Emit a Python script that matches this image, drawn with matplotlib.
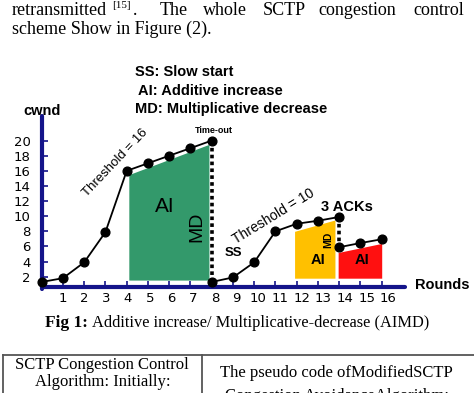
import numpy as np
import matplotlib.pyplot as plt
from matplotlib.lines import Line2D
from matplotlib.transforms import ScaledTranslation

# cwnd per round
ss1_rounds = [0, 1, 2, 3, 4, 5, 6, 7, 8]
ss1_cwnd = [1.3, 1.8, 3.9, 7.9, 16, 17, 18, 19, 20]
ss2_rounds = [8, 9, 10, 11, 12, 13, 14]
ss2_cwnd = [1.3, 1.9, 3.9, 8, 9, 9.4, 9.9]
ai3_rounds = [14, 15, 16]
ai3_cwnd = [5.9, 6.45, 6.95]

# drops (timeout, 3 acks)
drop1_rounds = [8, 8]
drop1_cwnd = [20, 1.3]
drop2_rounds = [14, 14]
drop2_cwnd = [9.9, 5.9]

# shaded regions: x range, top edge, bottom
green_x = [4.1, 7.87]
green_top = [15.5, 19.5]
green_bot = 1.55
yellow_x = [11.9, 13.8]
yellow_top = [8, 9.5]
yellow_bot = 1.8
red_x = [13.95, 16.0]
red_top = [5.2, 6.4]
red_bot = 1.8

x_ticks = list(range(1, 17))
y_ticks = list(range(2, 21, 2))

NAVY = '#14148a'
GREEN = '#33996b'
YELLOW = '#ffc000'
RED = '#ff1010'

SANS = ['Liberation Sans', 'DejaVu Sans']
SERIF = ['Liberation Serif', 'DejaVu Serif']
plt.rcParams['font.family'] = SANS

W, H = 474, 393
X0, XS = 41.7, 21.25
Y0, YS = 291.8, 7.56

fig = plt.figure(figsize=(W / 100, H / 100), dpi=100)
ax = fig.add_axes([0, 0, 1, 1])
ax.set_xlim(-X0 / XS, (W - X0) / XS)
ax.set_ylim((Y0 - H) / YS, Y0 / YS)

def fx(px):
    return px / W

def fy(py):
    return 1 - py / H

# axes spines
for s in ['top', 'right']:
    ax.spines[s].set_visible(False)
ax.spines['left'].set_position(('data', 0))
ax.spines['bottom'].set_position(('data', 0.67))
ax.spines['left'].set_bounds(0.4, 23.2)
ax.spines['bottom'].set_bounds(0, 17.1)
for s in ['left', 'bottom']:
    ax.spines[s].set_color(NAVY)
    ax.spines[s].set_linewidth(3)
    ax.spines[s].set_capstyle('round')

ax.set_xticks(x_ticks)
ax.set_yticks(y_ticks)
ax.tick_params(axis='x', direction='in', length=4, width=1.2, color=NAVY,
               labelsize=9.5, pad=4)
ax.tick_params(axis='y', direction='in', length=4, width=1.2, color=NAVY,
               labelsize=9.5, pad=8)
for lab in ax.get_xticklabels() + ax.get_yticklabels():
    lab.set_family('DejaVu Sans')
# the round labels drift a little to the right in the original
for i, lab in enumerate(ax.get_xticklabels()):
    lab.set_transform(lab.get_transform() + ScaledTranslation(i * 0.0045, 0, fig.dpi_scale_trans))

# shaded areas
ax.fill_between(green_x, green_top, green_bot, color=GREEN, lw=0, zorder=2)
ax.fill_between(yellow_x, yellow_top, yellow_bot, color=YELLOW, lw=0, zorder=2)
ax.fill_between(red_x, red_top, red_bot, color=RED, lw=0, zorder=2)

# cwnd lines
for xs, ys in [(ss1_rounds, ss1_cwnd), (ss2_rounds, ss2_cwnd), (ai3_rounds, ai3_cwnd)]:
    ax.plot(xs, ys, color='black', lw=1.3, marker='o', ms=6.3, zorder=4)
ax.plot(drop1_rounds, drop1_cwnd, color='black', lw=2.6, ls=(0, (1, 0.9)), zorder=3)
ax.plot(drop2_rounds, drop2_cwnd, color='black', lw=2.6, ls=(0, (1, 0.9)), zorder=3)

# labels on the chart
ax.text(0, 23.95, 'cwnd', fontsize=10.5, fontweight='bold', ha='center', va='center')
ax.text(18.86, 0.9, 'Rounds', fontsize=10.5, fontweight='bold', ha='center', va='center')
ax.text(4.39, 29.11, 'SS: Slow start', fontsize=10.5, fontweight='bold', va='center')
ax.text(4.53, 26.6, 'AI: Additive increase', fontsize=10.5, fontweight='bold', va='center')
ax.text(4.39, 24.14, 'MD: Multiplicative decrease', fontsize=10.5, fontweight='bold', va='center')
ax.text(8.11, 21.27, 'Time-out', fontsize=6.5, fontweight='bold', ha='center', va='center')
ax.text(3.45, 17.0, 'Threshold = 16', fontsize=9.5, rotation=46.5,
        ha='center', va='center', rotation_mode='anchor')
ax.text(10.93, 9.93, 'Threshold = 10', fontsize=10, rotation=31.5,
        ha='center', va='center', rotation_mode='anchor')
ax.text(14.35, 11.26, '3 ACKs', fontsize=10.5, fontweight='bold', ha='center', va='center')
ax.text(9.0, 5.17, 'SS', fontsize=9.5, fontweight='bold', ha='center', va='center')
ax.text(5.8, 11.26, 'AI', fontsize=15, ha='center', va='center', zorder=5)
ax.text(7.29, 8.6, 'MD', fontsize=14, rotation=90, ha='center', va='center', zorder=5)
ax.text(13.49, 6.85, 'MD', fontsize=7.5, fontweight='bold', rotation=90,
        ha='center', va='center', zorder=5)
ax.text(13.02, 4.2, 'AI', fontsize=10.5, fontweight='bold', ha='center', va='center', zorder=5)
ax.text(15.06, 4.2, 'AI', fontsize=10.5, fontweight='bold', ha='center', va='center', zorder=5)

# paragraph above the figure (justified first line)
line1 = [('retransmitted', 11.7), ('The', 160), ('whole', 203), ('SCTP', 263),
         ('congestion', 318), ('control', 413)]
for word, px in line1:
    fig.text(fx(px), fy(15), word, family=SERIF, fontsize=13, va='baseline')
fig.text(fx(112), fy(8), '[15]', family=SERIF, fontsize=8, va='baseline')
fig.text(fx(133), fy(15), '.', family=SERIF, fontsize=13, va='baseline')
fig.text(fx(11.7), fy(34), 'scheme Show in Figure (2).', family=SERIF, fontsize=13, va='baseline')

# caption
fig.text(fx(45), fy(327), 'Fig 1:', family=SERIF, fontsize=12.5, fontweight='bold', va='baseline')
fig.text(fx(91.7), fy(327), 'Additive increase/ Multiplicative-decrease (AIMD)',
         family=SERIF, fontsize=11.8, va='baseline')

# start of the table below
for xs, ys in [([3, 474], [355, 355]), ([3, 3], [355, 393]), ([202, 202], [355, 393])]:
    fig.add_artist(Line2D([fx(v) for v in xs], [fy(v) for v in ys],
                          color='#555555', lw=1.3, transform=fig.transFigure))
fig.text(fx(101.5), fy(365), 'SCTP Congestion Control', family=SERIF, fontsize=12,
         ha='center', va='center')
fig.text(fx(103), fy(381.7), 'Algorithm: Initially:', family=SERIF, fontsize=12,
         ha='center', va='center')
fig.text(fx(336.7), fy(373), 'The pseudo code ofModifiedSCTP', family=SERIF, fontsize=12,
         ha='center', va='center')
fig.text(fx(336.7), fy(400), 'Congestion AvoidanceAlgorithm:', family=SERIF, fontsize=12,
         ha='center', va='baseline')

fig.savefig('out.png', dpi=100)
